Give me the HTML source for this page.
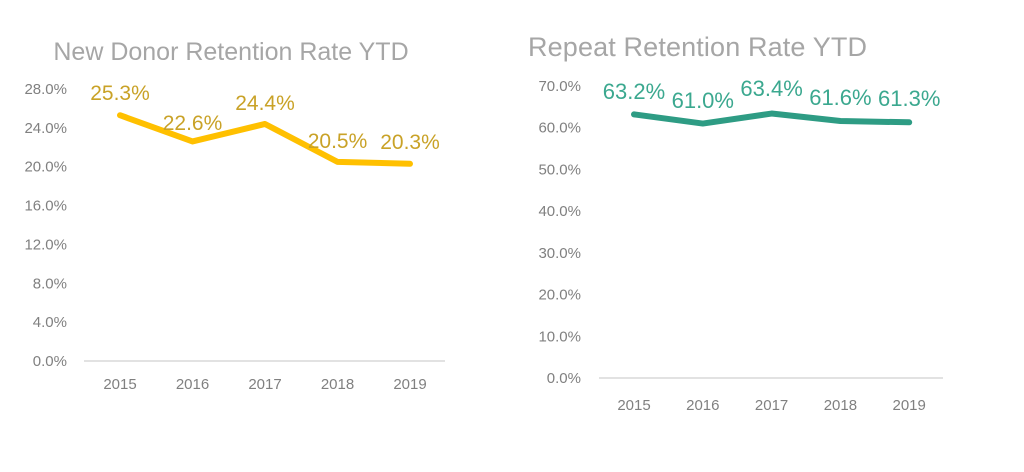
<!DOCTYPE html>
<html><head><meta charset="utf-8"><style>
body{margin:0;background:#fff;width:1024px;height:467px;overflow:hidden}
svg{font-family:"Liberation Sans",sans-serif}
</style></head><body>
<svg id="s" width="1024" height="467">
<text x="231" y="60" text-anchor="middle" font-size="25" fill="#a6a6a6">New Donor Retention Rate YTD</text>
<text x="528" y="56" font-size="27" fill="#a6a6a6" textLength="339">Repeat Retention Rate YTD</text>
</svg>
<script>
const years=["2015","2016","2017","2018","2019"];
const newDonor=[25.3,22.6,24.4,20.5,20.3];
const repeat=[63.2,61.0,63.4,61.6,61.3];
const leftTicks=[0,4,8,12,16,20,24,28];
const rightTicks=[0,10,20,30,40,50,60,70];
const svg=document.getElementById('s');const NS='http://www.w3.org/2000/svg';
function mk(t,a){const e=document.createElementNS(NS,t);for(const k in a)e.setAttribute(k,a[k]);svg.appendChild(e);return e;}
function chart(o){
 const y=v=>o.y0-(v/o.max)*(o.y0-o.yTop);
 const x=i=>o.x0+i*o.dx;
 const ax=mk('line',{x1:o.ax1,x2:o.ax2,y1:o.y0,y2:o.y0,stroke:'#d9d9d9','stroke-width':1.5});
 
 
 o.ticks.forEach(t=>{const e=mk('text',{x:o.tx,y:y(t)+5,'text-anchor':'end','font-size':o.tfs,fill:'#808080'});e.textContent=t.toFixed(1)+'%';
  
  });
 years.forEach((yr,i)=>{const e=mk('text',{x:x(i),y:o.yl,'text-anchor':'middle','font-size':o.tfs,fill:'#808080'});e.textContent=yr;
  
  });
 const pts=o.data.map((v,i)=>x(i)+','+y(v)).join(' ');
 const l=mk('polyline',{points:pts,fill:'none',stroke:o.c,'stroke-width':6,'stroke-linejoin':'round','stroke-linecap':'round'});
 
 
 o.data.forEach((v,i)=>{const e=mk('text',{x:x(i),y:o.ly[i],'text-anchor':'middle','font-size':o.fs,fill:o.lc});e.textContent=v.toFixed(1)+'%';
  
  });
}
chart({p:'left',y0:361,yTop:89,max:28,x0:120,dx:72.5,ax1:84,ax2:445,tx:67,yl:389,tfs:15,ticks:leftTicks,data:newDonor,c:'#ffc000',lc:'#c9a227',fs:21,ly:[100,130,110,148,149]});
chart({p:'right',y0:378,yTop:86,max:70,x0:634,dx:68.8,ax1:599,ax2:943,tx:581,yl:410,tfs:15,ticks:rightTicks,data:repeat,c:'#2e9c84',lc:'#3ba88f',fs:22,ly:[99,108,96,105,106]});
</script>
</body></html>
